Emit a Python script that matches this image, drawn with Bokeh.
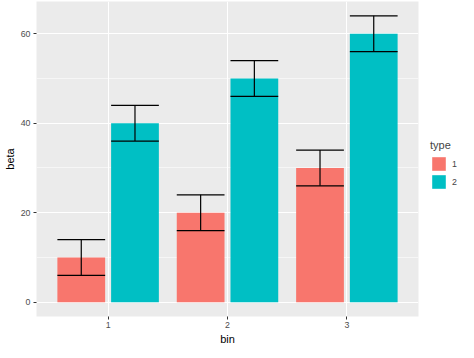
from bokeh.plotting import figure
from bokeh.models import ColumnDataSource, FixedTicker, Legend, LegendItem
from bokeh.embed import file_html
from bokeh.resources import INLINE

bins = [1, 2, 3]
beta_type1 = [10, 20, 30]
beta_type2 = [40, 50, 60]
err_type1 = [4, 4, 4]
err_type2 = [4, 4, 4]
types = ["1", "2"]
colors = ["#F8766D", "#00BFC4"]
y_ticks = [0, 20, 40, 60]
y_minor = [10, 30, 50]

dodge = 0.225
bar_w = 0.4
FW, FH = 382, 315

p = figure(frame_width=FW, frame_height=FH, x_range=(0.4, 3.6), y_range=(-3.2, 67.2),
           output_backend="svg", toolbar_location=None,
           min_border_left=20, min_border_right=0, min_border_top=1, min_border_bottom=26)
p.background_fill_color = "#EBEBEB"
p.border_fill_color = "white"
p.outline_line_color = None

renderers = []
for i, (vals, errs) in enumerate([(beta_type1, err_type1), (beta_type2, err_type2)]):
    off = -dodge if i == 0 else dodge
    xs = [b + off for b in bins]
    src = ColumnDataSource(dict(
        x=xs, top=vals,
        lo=[v - e for v, e in zip(vals, errs)],
        hi=[v + e for v, e in zip(vals, errs)],
        x0=[x - bar_w / 2 for x in xs],
        x1=[x + bar_w / 2 for x in xs],
    ))
    r = p.vbar(x="x", top="top", bottom=0, width=bar_w, source=src,
               fill_color=colors[i], line_color=None)
    renderers.append(r)
    p.segment(x0="x", y0="lo", x1="x", y1="hi", source=src, line_color="black", line_width=1.2)
    p.segment(x0="x0", y0="hi", x1="x1", y1="hi", source=src, line_color="black", line_width=1.2)
    p.segment(x0="x0", y0="lo", x1="x1", y1="lo", source=src, line_color="black", line_width=1.2)

p.xaxis.ticker = FixedTicker(ticks=bins)
p.yaxis.ticker = FixedTicker(ticks=y_ticks, minor_ticks=y_minor)
p.xgrid.ticker = FixedTicker(ticks=bins)

for g in (p.xgrid, p.ygrid):
    g.grid_line_color = "white"
    g.grid_line_width = 1.1
p.ygrid.minor_grid_line_color = "white"
p.ygrid.minor_grid_line_width = 0.55

for ax in (p.xaxis, p.yaxis):
    ax.axis_line_color = None
    ax.major_tick_line_color = "#333333"
    ax.major_tick_in = 0
    ax.major_tick_out = 3
    ax.minor_tick_line_color = None
    ax.major_label_text_color = "#4D4D4D"
    ax.major_label_text_font = "Liberation Sans"
    ax.major_label_text_font_size = "8.8px"
    ax.major_label_standoff = 2
    ax.axis_label_text_font = "Liberation Sans"
    ax.axis_label_text_font_size = "11px"
    ax.axis_label_text_font_style = "normal"
    ax.axis_label_text_color = "black"
    ax.axis_label_standoff = 2
p.xaxis.axis_label = "bin"
p.yaxis.axis_label = "beta"

legend = Legend(items=[LegendItem(label=types[0], renderers=[renderers[0]]),
                       LegendItem(label=types[1], renderers=[renderers[1]])],
                title="type", location=(12, 126))
legend.title_text_font = "Liberation Sans"
legend.title_text_font_size = "11px"
legend.title_text_font_style = "normal"
legend.title_standoff = 4
legend.label_text_font = "Liberation Sans"
legend.label_text_font_size = "8.8px"
legend.glyph_width = 17
legend.glyph_height = 17
legend.spacing = 1
legend.label_standoff = 5
legend.label_height = 17
legend.padding = 0
legend.margin = 9
legend.border_line_color = None
legend.background_fill_alpha = 0
p.add_layout(legend, "right")

open("out.html", "w").write(file_html(p, INLINE))
